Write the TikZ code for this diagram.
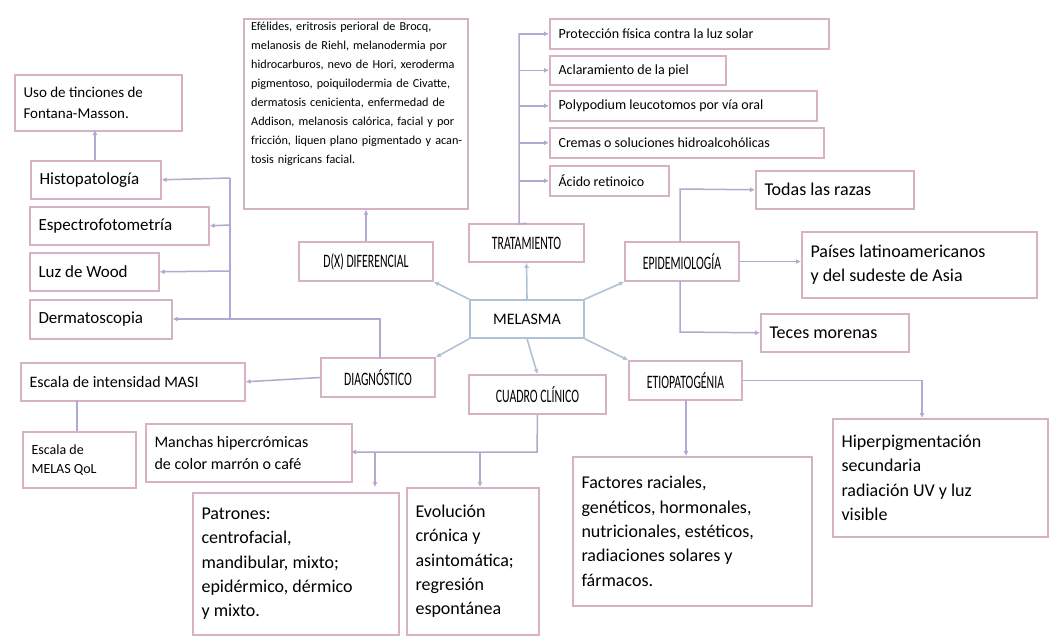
\documentclass[tikz,border=0pt]{standalone}
\usepackage{fontspec}
\setmainfont{Carlito}
\newfontfamily\headfont[FakeStretch=0.62]{Carlito}
\usetikzlibrary{arrows.meta,positioning,calc}
\definecolor{boxpink}{RGB}{214,178,196}
\definecolor{linklav}{RGB}{178,168,208}
\definecolor{linkblue}{RGB}{176,194,214}
\tikzset{
  box/.style={draw=boxpink, line width=1.6pt, fill=white, inner sep=0pt, align=left},
  head/.style={box, font=\headfont\fontsize{19}{20}\selectfont, align=center},
  arrow/.style={-{Latex[length=5pt,width=5pt]}, draw=linklav, line width=1.5pt},
  link/.style={draw=linklav, line width=1.5pt},
  carrow/.style={-{Latex[length=5pt,width=5pt]}, draw=linkblue, line width=1.6pt},
}
\newcommand{\bx}[7]{% name, x1, y1, x2, y2, font size, text
  \pgfmathsetmacro\bxls{#6*1.35}
  \node[box, anchor=north west, minimum width={#4-#2}, minimum height={#5-#3}] (#1) at (#2,#3) {};
  \node[anchor=west, align=left, font=\fontsize{#6}{\bxls}\selectfont]
        at ($(#1.west)+(6,0)$) {#7};}
\begin{document}
\begin{tikzpicture}[x=1pt, y=-1pt]
  \useasboundingbox (0,0) rectangle (1054,640);
  % centre and headings
  \node[box, draw=linkblue, minimum width=114, minimum height=38, font=\fontsize{16}{18}\selectfont] (mel) at (527,319) {MELASMA};
  \node[head, minimum width=134, minimum height=39] (dif) at (366,261.5) {D(X) DIFERENCIAL};
  \node[head, minimum width=115, minimum height=38] (tra) at (526.5,243) {TRATAMIENTO};
  \node[head, minimum width=114, minimum height=39] (epi) at (682,261.5) {EPIDEMIOLOGÍA};
  \node[head, minimum width=114, minimum height=39] (dia) at (378,377.5) {DIAGNÓSTICO};
  \node[head, minimum width=137, minimum height=39] (cua) at (537.5,394.5) {CUADRO CLÍNICO};
  \node[head, minimum width=113, minimum height=39] (eti) at (685.5,380.5) {ETIOPATOGÉNIA};
  % leaf boxes
  \bx{fon}{14}{74}{181}{130}{15}{Uso de tinciones de\\Fontana-Masson.}
  \bx{his}{30}{160}{160}{198}{17}{Histopatología}
  \bx{esp}{29}{206}{208}{244}{17}{Espectrofotometría}
  \bx{luz}{29}{252}{158}{290}{17}{Luz de Wood}
  \bx{der}{29}{299}{171}{338}{17}{Dermatoscopia}
  \bx{mas}{20}{362}{244}{400}{16}{Escala de intensidad MASI}
  \bx{qol}{22}{431}{135}{487}{14}{Escala de\\MELAS QoL}
  \bx{man}{145}{423}{351}{481}{16}{Manchas hipercrómicas\\de color marrón o café}
  \bx{pat}{192}{492}{398}{634}{18}{Patrones:\\centrofacial,\\mandibular, mixto;\\epidérmico, dérmico\\y mixto.}
  \bx{evo}{406}{487}{538}{634}{18}{Evolución\\crónica y\\asintomática;\\regresión\\espontánea}
  \bx{fac}{572}{456}{811}{605}{18}{Factores raciales,\\genéticos, hormonales,\\nutricionales, estéticos,\\radiaciones solares y\\fármacos.}
  \bx{hip}{832}{418}{1047}{536}{18}{Hiperpigmentación\\secundaria\\radiación UV y luz\\visible}
  \bx{pro}{549}{18}{828}{48}{14}{Protección física contra la luz solar}
  \bx{acl}{549}{55}{725}{84}{14}{Aclaramiento de la piel}
  \bx{pol}{549}{90}{816}{120}{14}{Polypodium leucotomos por vía oral}
  \bx{cre}{549}{127}{823}{157}{14}{Cremas o soluciones hidroalcohólicas}
  \bx{aci}{549}{165}{668}{195}{14}{Ácido retinoico}
  \bx{tod}{755}{170}{913}{208}{18}{Todas las razas}
  \bx{pai}{801}{231}{1036}{297}{18}{Países latinoamericanos\\y del sudeste de Asia}
  \bx{tec}{760}{313}{908}{351}{18}{Teces morenas}
  \node[box, anchor=north west, minimum width=224, minimum height=190] (ddx) at (243,18) {};
  \node[anchor=north west, text width=212, align=left, inner sep=0pt,
        font=\fontsize{12.2}{19}\selectfont] at (251,22)
    {Efélides, eritrosis perioral de Brocq, melanosis de Riehl, melanodermia por hidrocarburos, nevo de Hori, xeroderma pigmentoso, poiquilodermia de Civatte, dermatosis cenicienta, enfermedad de Addison, melanosis calórica, facial y por fricción, liquen plano pigmentado y acantosis nigricans facial.};
  % centre arrows
  \draw[carrow] (mel.north) -- (tra.south);
  \draw[carrow] (mel.south) -- (cua.north);
  \draw[carrow] (mel.north west) -- (dif.south east);
  \draw[carrow] (mel.north east) -- (epi.south west);
  \draw[carrow] (mel.south west) -- (dia.north east);
  \draw[carrow] (mel.south east) -- (eti.north west);
  % tratamiento
  \draw[link] (tra.north) -- (519,224) -- (519,33);
  \foreach \t in {pro,acl,pol,cre,aci}
    \draw[arrow] (519,0 |- \t.west) -- (\t.west);
  % epidemiologia
  \draw[arrow] (680,242) -- (680,189) -- (tod.west);
  \draw[arrow] (680,281) -- (680,332) -- (tec.west);
  \draw[arrow] (epi.east) -- (epi.east -| pai.west);
  % diferencial
  \draw[arrow] (dif.north) -- (ddx.south -| dif.north);
  % diagnostico
  \draw[arrow] (380,358) -- (380,319) -- (der.east |- 0,319);
  \draw[link] (230,319) -- (230,178);
  \draw[arrow] (230,178) -- (his.east);
  \draw[arrow] (230,225) -- (esp.east);
  \draw[arrow] (230,271) -- (luz.east);
  \draw[arrow] (dia.west) -- (mas.east);
  \draw[link] (77,400) -- (77,431);
  \draw[arrow] (95,160) -- (95,130);
  % cuadro clinico
  \draw[arrow] (cua.south) -- (537,452) -- (351,452);
  \draw[arrow] (375,452) -- (375,487);
  \draw[arrow] (480,452) -- (480,487);
  % etiopatogenia
  \draw[arrow] (686,400) -- (686,456);
  \draw[arrow] (eti.east) -- (922,380.5) -- (922,418);
\end{tikzpicture}
\end{document}
